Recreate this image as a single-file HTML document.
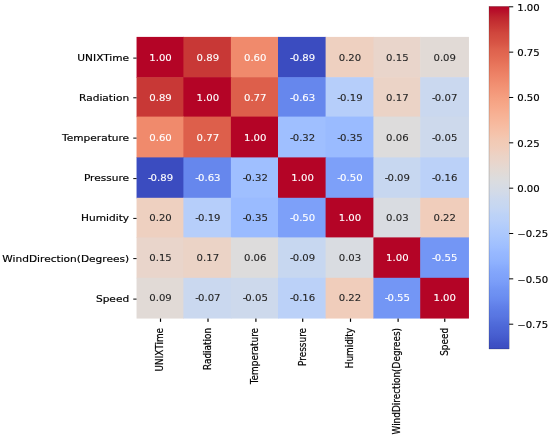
<!DOCTYPE html>
<html><head><meta charset="utf-8"><title>Correlation heatmap</title>
<style>html,body{margin:0;padding:0;background:#fff}svg{display:block}</style></head>
<body>
<svg width="550" height="439" viewBox="0 0 550 439">
<defs><linearGradient id="cb" x1="0" y1="0" x2="0" y2="1">
<stop offset="0.0000" stop-color="#b40426"/>
<stop offset="0.0156" stop-color="#b8122a"/>
<stop offset="0.0312" stop-color="#be242e"/>
<stop offset="0.0469" stop-color="#c43032"/>
<stop offset="0.0625" stop-color="#ca3b37"/>
<stop offset="0.0781" stop-color="#d0473d"/>
<stop offset="0.0938" stop-color="#d44e41"/>
<stop offset="0.1094" stop-color="#d85646"/>
<stop offset="0.1250" stop-color="#de614d"/>
<stop offset="0.1406" stop-color="#e16751"/>
<stop offset="0.1562" stop-color="#e46e56"/>
<stop offset="0.1719" stop-color="#e8765c"/>
<stop offset="0.1875" stop-color="#eb7d62"/>
<stop offset="0.2031" stop-color="#ee8468"/>
<stop offset="0.2188" stop-color="#f08b6e"/>
<stop offset="0.2344" stop-color="#f29274"/>
<stop offset="0.2500" stop-color="#f4987a"/>
<stop offset="0.2656" stop-color="#f59f80"/>
<stop offset="0.2812" stop-color="#f6a586"/>
<stop offset="0.2969" stop-color="#f7aa8c"/>
<stop offset="0.3125" stop-color="#f7b093"/>
<stop offset="0.3281" stop-color="#f7b599"/>
<stop offset="0.3438" stop-color="#f7ba9f"/>
<stop offset="0.3594" stop-color="#f6bfa6"/>
<stop offset="0.3750" stop-color="#f5c4ac"/>
<stop offset="0.3906" stop-color="#f2c9b4"/>
<stop offset="0.4062" stop-color="#f1ccb8"/>
<stop offset="0.4219" stop-color="#efcfbf"/>
<stop offset="0.4375" stop-color="#ebd3c6"/>
<stop offset="0.4531" stop-color="#e9d5cb"/>
<stop offset="0.4688" stop-color="#e5d8d1"/>
<stop offset="0.4844" stop-color="#e1dad6"/>
<stop offset="0.5000" stop-color="#dddcdc"/>
<stop offset="0.5156" stop-color="#d9dce1"/>
<stop offset="0.5312" stop-color="#d5dbe5"/>
<stop offset="0.5469" stop-color="#d1dae9"/>
<stop offset="0.5625" stop-color="#cbd8ee"/>
<stop offset="0.5781" stop-color="#c7d7f0"/>
<stop offset="0.5938" stop-color="#c3d5f4"/>
<stop offset="0.6094" stop-color="#bcd2f7"/>
<stop offset="0.6250" stop-color="#b9d0f9"/>
<stop offset="0.6406" stop-color="#b3cdfb"/>
<stop offset="0.6562" stop-color="#aec9fc"/>
<stop offset="0.6719" stop-color="#a9c6fd"/>
<stop offset="0.6875" stop-color="#a3c2fe"/>
<stop offset="0.7031" stop-color="#9ebeff"/>
<stop offset="0.7188" stop-color="#97b8ff"/>
<stop offset="0.7344" stop-color="#93b5fe"/>
<stop offset="0.7500" stop-color="#8db0fe"/>
<stop offset="0.7656" stop-color="#86a9fc"/>
<stop offset="0.7812" stop-color="#81a4fb"/>
<stop offset="0.7969" stop-color="#7da0f9"/>
<stop offset="0.8125" stop-color="#779af7"/>
<stop offset="0.8281" stop-color="#7093f3"/>
<stop offset="0.8438" stop-color="#6c8ff1"/>
<stop offset="0.8594" stop-color="#6788ee"/>
<stop offset="0.8750" stop-color="#6180e9"/>
<stop offset="0.8906" stop-color="#5b7ae5"/>
<stop offset="0.9062" stop-color="#5875e1"/>
<stop offset="0.9219" stop-color="#516ddb"/>
<stop offset="0.9375" stop-color="#4c66d6"/>
<stop offset="0.9531" stop-color="#4961d2"/>
<stop offset="0.9688" stop-color="#445acc"/>
<stop offset="0.9844" stop-color="#3e51c5"/>
<stop offset="1.0000" stop-color="#3b4cc0"/>
</linearGradient></defs>
<rect width="550" height="439" fill="#ffffff"/>
<g>
<rect x="136.55" y="36.90" width="47.45" height="40.90" fill="#b40426"/>
<rect x="183.40" y="36.90" width="48.10" height="40.90" fill="#c83836"/>
<rect x="230.90" y="36.90" width="47.70" height="40.90" fill="#f08a6c"/>
<rect x="278.00" y="36.90" width="48.20" height="40.90" fill="#3b4cc0"/>
<rect x="325.60" y="36.90" width="48.40" height="40.90" fill="#eed0c0"/>
<rect x="373.40" y="36.90" width="47.40" height="40.90" fill="#e9d5cb"/>
<rect x="420.20" y="36.90" width="48.75" height="40.90" fill="#e1dad6"/>
<rect x="136.55" y="77.20" width="47.45" height="40.00" fill="#c83836"/>
<rect x="183.40" y="77.20" width="48.10" height="40.00" fill="#b40426"/>
<rect x="230.90" y="77.20" width="47.70" height="40.00" fill="#dd5f4b"/>
<rect x="278.00" y="77.20" width="48.20" height="40.00" fill="#6687ed"/>
<rect x="325.60" y="77.20" width="48.40" height="40.00" fill="#b6cefa"/>
<rect x="373.40" y="77.20" width="47.40" height="40.00" fill="#ebd3c6"/>
<rect x="420.20" y="77.20" width="48.75" height="40.00" fill="#cad8ef"/>
<rect x="136.55" y="116.60" width="47.45" height="41.40" fill="#f08a6c"/>
<rect x="183.40" y="116.60" width="48.10" height="41.40" fill="#dd5f4b"/>
<rect x="230.90" y="116.60" width="47.70" height="41.40" fill="#b40426"/>
<rect x="278.00" y="116.60" width="48.20" height="41.40" fill="#9fbfff"/>
<rect x="325.60" y="116.60" width="48.40" height="41.40" fill="#9abbff"/>
<rect x="373.40" y="116.60" width="47.40" height="41.40" fill="#dddcdc"/>
<rect x="420.20" y="116.60" width="48.75" height="41.40" fill="#cdd9ec"/>
<rect x="136.55" y="157.40" width="47.45" height="41.00" fill="#3b4cc0"/>
<rect x="183.40" y="157.40" width="48.10" height="41.00" fill="#6687ed"/>
<rect x="230.90" y="157.40" width="47.70" height="41.00" fill="#9fbfff"/>
<rect x="278.00" y="157.40" width="48.20" height="41.00" fill="#b40426"/>
<rect x="325.60" y="157.40" width="48.40" height="41.00" fill="#7da0f9"/>
<rect x="373.40" y="157.40" width="47.40" height="41.00" fill="#c7d7f0"/>
<rect x="420.20" y="157.40" width="48.75" height="41.00" fill="#bbd1f8"/>
<rect x="136.55" y="197.80" width="47.45" height="40.20" fill="#eed0c0"/>
<rect x="183.40" y="197.80" width="48.10" height="40.20" fill="#b6cefa"/>
<rect x="230.90" y="197.80" width="47.70" height="40.20" fill="#9abbff"/>
<rect x="278.00" y="197.80" width="48.20" height="40.20" fill="#7da0f9"/>
<rect x="325.60" y="197.80" width="48.40" height="40.20" fill="#b40426"/>
<rect x="373.40" y="197.80" width="47.40" height="40.20" fill="#d9dce1"/>
<rect x="420.20" y="197.80" width="48.75" height="40.20" fill="#f0cdbb"/>
<rect x="136.55" y="237.40" width="47.45" height="41.00" fill="#e9d5cb"/>
<rect x="183.40" y="237.40" width="48.10" height="41.00" fill="#ebd3c6"/>
<rect x="230.90" y="237.40" width="47.70" height="41.00" fill="#dddcdc"/>
<rect x="278.00" y="237.40" width="48.20" height="41.00" fill="#c7d7f0"/>
<rect x="325.60" y="237.40" width="48.40" height="41.00" fill="#d9dce1"/>
<rect x="373.40" y="237.40" width="47.40" height="41.00" fill="#b40426"/>
<rect x="420.20" y="237.40" width="48.75" height="41.00" fill="#7396f5"/>
<rect x="136.55" y="277.80" width="47.45" height="40.75" fill="#e1dad6"/>
<rect x="183.40" y="277.80" width="48.10" height="40.75" fill="#cad8ef"/>
<rect x="230.90" y="277.80" width="47.70" height="40.75" fill="#cdd9ec"/>
<rect x="278.00" y="277.80" width="48.20" height="40.75" fill="#bbd1f8"/>
<rect x="325.60" y="277.80" width="48.40" height="40.75" fill="#f0cdbb"/>
<rect x="373.40" y="277.80" width="47.40" height="40.75" fill="#7396f5"/>
<rect x="420.20" y="277.80" width="48.75" height="40.75" fill="#b40426"/>
</g>
<g font-family="'DejaVu Sans', 'Liberation Sans', sans-serif" font-size="10" text-anchor="middle" stroke-width="0.12">
<text transform="translate(160.49 60.85) scale(1.0120 0.9150)" fill="#ffffff" stroke="#ffffff">1.00</text>
<text transform="translate(207.86 60.85) scale(1.0120 0.9150)" fill="#ffffff" stroke="#ffffff">0.89</text>
<text transform="translate(255.23 60.85) scale(1.0120 0.9150)" fill="#ffffff" stroke="#ffffff">0.60</text>
<text transform="translate(302.60 60.85) scale(1.0120 0.9150)" fill="#ffffff" stroke="#ffffff">-<tspan dx="-0.9">0.89</tspan></text>
<text transform="translate(349.97 60.85) scale(1.0120 0.9150)" fill="#262626" stroke="#262626">0.20</text>
<text transform="translate(397.33 60.85) scale(1.0120 0.9150)" fill="#262626" stroke="#262626">0.15</text>
<text transform="translate(444.70 60.85) scale(1.0120 0.9150)" fill="#262626" stroke="#262626">0.09</text>
<text transform="translate(160.49 100.60) scale(1.0120 0.9150)" fill="#ffffff" stroke="#ffffff">0.89</text>
<text transform="translate(207.86 100.60) scale(1.0120 0.9150)" fill="#ffffff" stroke="#ffffff">1.00</text>
<text transform="translate(255.23 100.60) scale(1.0120 0.9150)" fill="#ffffff" stroke="#ffffff">0.77</text>
<text transform="translate(302.60 100.60) scale(1.0120 0.9150)" fill="#ffffff" stroke="#ffffff">-<tspan dx="-0.9">0.63</tspan></text>
<text transform="translate(349.97 100.60) scale(1.0120 0.9150)" fill="#262626" stroke="#262626">-<tspan dx="-0.9">0.19</tspan></text>
<text transform="translate(397.33 100.60) scale(1.0120 0.9150)" fill="#262626" stroke="#262626">0.17</text>
<text transform="translate(444.70 100.60) scale(1.0120 0.9150)" fill="#262626" stroke="#262626">-<tspan dx="-0.9">0.07</tspan></text>
<text transform="translate(160.49 141.15) scale(1.0120 0.9150)" fill="#ffffff" stroke="#ffffff">0.60</text>
<text transform="translate(207.86 141.15) scale(1.0120 0.9150)" fill="#ffffff" stroke="#ffffff">0.77</text>
<text transform="translate(255.23 141.15) scale(1.0120 0.9150)" fill="#ffffff" stroke="#ffffff">1.00</text>
<text transform="translate(302.60 141.15) scale(1.0120 0.9150)" fill="#262626" stroke="#262626">-<tspan dx="-0.9">0.32</tspan></text>
<text transform="translate(349.97 141.15) scale(1.0120 0.9150)" fill="#262626" stroke="#262626">-<tspan dx="-0.9">0.35</tspan></text>
<text transform="translate(397.33 141.15) scale(1.0120 0.9150)" fill="#262626" stroke="#262626">0.06</text>
<text transform="translate(444.70 141.15) scale(1.0120 0.9150)" fill="#262626" stroke="#262626">-<tspan dx="-0.9">0.05</tspan></text>
<text transform="translate(160.49 180.85) scale(1.0120 0.9150)" fill="#ffffff" stroke="#ffffff">-<tspan dx="-0.9">0.89</tspan></text>
<text transform="translate(207.86 180.85) scale(1.0120 0.9150)" fill="#ffffff" stroke="#ffffff">-<tspan dx="-0.9">0.63</tspan></text>
<text transform="translate(255.23 180.85) scale(1.0120 0.9150)" fill="#262626" stroke="#262626">-<tspan dx="-0.9">0.32</tspan></text>
<text transform="translate(302.60 180.85) scale(1.0120 0.9150)" fill="#ffffff" stroke="#ffffff">1.00</text>
<text transform="translate(349.97 180.85) scale(1.0120 0.9150)" fill="#ffffff" stroke="#ffffff">-<tspan dx="-0.9">0.50</tspan></text>
<text transform="translate(397.33 180.85) scale(1.0120 0.9150)" fill="#262626" stroke="#262626">-<tspan dx="-0.9">0.09</tspan></text>
<text transform="translate(444.70 180.85) scale(1.0120 0.9150)" fill="#262626" stroke="#262626">-<tspan dx="-0.9">0.16</tspan></text>
<text transform="translate(160.49 221.15) scale(1.0120 0.9150)" fill="#262626" stroke="#262626">0.20</text>
<text transform="translate(207.86 221.15) scale(1.0120 0.9150)" fill="#262626" stroke="#262626">-<tspan dx="-0.9">0.19</tspan></text>
<text transform="translate(255.23 221.15) scale(1.0120 0.9150)" fill="#262626" stroke="#262626">-<tspan dx="-0.9">0.35</tspan></text>
<text transform="translate(302.60 221.15) scale(1.0120 0.9150)" fill="#ffffff" stroke="#ffffff">-<tspan dx="-0.9">0.50</tspan></text>
<text transform="translate(349.97 221.15) scale(1.0120 0.9150)" fill="#ffffff" stroke="#ffffff">1.00</text>
<text transform="translate(397.33 221.15) scale(1.0120 0.9150)" fill="#262626" stroke="#262626">0.03</text>
<text transform="translate(444.70 221.15) scale(1.0120 0.9150)" fill="#262626" stroke="#262626">0.22</text>
<text transform="translate(160.49 261.35) scale(1.0120 0.9150)" fill="#262626" stroke="#262626">0.15</text>
<text transform="translate(207.86 261.35) scale(1.0120 0.9150)" fill="#262626" stroke="#262626">0.17</text>
<text transform="translate(255.23 261.35) scale(1.0120 0.9150)" fill="#262626" stroke="#262626">0.06</text>
<text transform="translate(302.60 261.35) scale(1.0120 0.9150)" fill="#262626" stroke="#262626">-<tspan dx="-0.9">0.09</tspan></text>
<text transform="translate(349.97 261.35) scale(1.0120 0.9150)" fill="#262626" stroke="#262626">0.03</text>
<text transform="translate(397.33 261.35) scale(1.0120 0.9150)" fill="#ffffff" stroke="#ffffff">1.00</text>
<text transform="translate(444.70 261.35) scale(1.0120 0.9150)" fill="#ffffff" stroke="#ffffff">-<tspan dx="-0.9">0.55</tspan></text>
<text transform="translate(160.49 301.35) scale(1.0120 0.9150)" fill="#262626" stroke="#262626">0.09</text>
<text transform="translate(207.86 301.35) scale(1.0120 0.9150)" fill="#262626" stroke="#262626">-<tspan dx="-0.9">0.07</tspan></text>
<text transform="translate(255.23 301.35) scale(1.0120 0.9150)" fill="#262626" stroke="#262626">-<tspan dx="-0.9">0.05</tspan></text>
<text transform="translate(302.60 301.35) scale(1.0120 0.9150)" fill="#262626" stroke="#262626">-<tspan dx="-0.9">0.16</tspan></text>
<text transform="translate(349.97 301.35) scale(1.0120 0.9150)" fill="#262626" stroke="#262626">0.22</text>
<text transform="translate(397.33 301.35) scale(1.0120 0.9150)" fill="#ffffff" stroke="#ffffff">-<tspan dx="-0.9">0.55</tspan></text>
<text transform="translate(444.70 301.35) scale(1.0120 0.9150)" fill="#ffffff" stroke="#ffffff">1.00</text>
</g>
<g font-family="'DejaVu Sans', 'Liberation Sans', sans-serif" font-size="10" fill="#000000" stroke="#000000" stroke-width="0.18">
<rect x="133.26" y="57.61" width="3.29" height="0.98" fill="#000" stroke="none"/>
<text text-anchor="end" transform="translate(129.13 61.15) scale(1.0600 0.9150)">UNIXTime</text>
<rect x="159.92" y="318.55" width="1.17" height="3.30" fill="#000" stroke="none"/>
<text text-anchor="end" transform="translate(163.39 327.92) scale(1.0900 0.8920) rotate(-90)">UNIXTime</text>
<rect x="133.26" y="97.31" width="3.29" height="0.98" fill="#000" stroke="none"/>
<text text-anchor="end" transform="translate(129.13 100.90) scale(1.0600 0.9150)">Radiation</text>
<rect x="207.42" y="318.55" width="1.17" height="3.30" fill="#000" stroke="none"/>
<text text-anchor="end" transform="translate(210.76 327.92) scale(1.0900 0.8920) rotate(-90)">Radiation</text>
<rect x="133.26" y="137.61" width="3.29" height="0.98" fill="#000" stroke="none"/>
<text text-anchor="end" transform="translate(129.13 141.45) scale(1.0600 0.9150)">Temperature</text>
<rect x="255.32" y="318.55" width="1.17" height="3.30" fill="#000" stroke="none"/>
<text text-anchor="end" transform="translate(258.12 327.92) scale(1.0900 0.8920) rotate(-90)">Temperature</text>
<rect x="133.26" y="178.11" width="3.29" height="0.98" fill="#000" stroke="none"/>
<text text-anchor="end" transform="translate(129.13 181.15) scale(1.0600 0.9150)">Pressure</text>
<rect x="302.12" y="318.55" width="1.17" height="3.30" fill="#000" stroke="none"/>
<text text-anchor="end" transform="translate(305.50 327.92) scale(1.0900 0.8920) rotate(-90)">Pressure</text>
<rect x="133.26" y="217.91" width="3.29" height="0.98" fill="#000" stroke="none"/>
<text text-anchor="end" transform="translate(129.13 221.45) scale(1.0600 0.9150)">Humidity</text>
<rect x="349.92" y="318.55" width="1.17" height="3.30" fill="#000" stroke="none"/>
<text text-anchor="end" transform="translate(352.87 327.92) scale(1.0900 0.8920) rotate(-90)">Humidity</text>
<rect x="133.26" y="258.11" width="3.29" height="0.98" fill="#000" stroke="none"/>
<text text-anchor="end" transform="translate(129.13 261.65) scale(1.0600 0.9150)">WindDirection(Degrees)</text>
<rect x="397.52" y="318.55" width="1.17" height="3.30" fill="#000" stroke="none"/>
<text text-anchor="end" transform="translate(400.23 327.92) scale(1.0900 0.8920) rotate(-90)">WindDirection(Degrees)</text>
<rect x="133.26" y="298.61" width="3.29" height="0.98" fill="#000" stroke="none"/>
<text text-anchor="end" transform="translate(129.13 301.65) scale(1.0600 0.9150)">Speed</text>
<rect x="444.17" y="318.55" width="1.17" height="3.30" fill="#000" stroke="none"/>
<text text-anchor="end" transform="translate(447.60 327.92) scale(1.0900 0.8920) rotate(-90)">Speed</text>
<rect x="489.00" y="6.40" width="20.10" height="342.60" fill="url(#cb)"/>
<rect x="509.10" y="6.31" width="4.13" height="0.98" fill="#000" stroke="none"/>
<text transform="translate(517.22 10.72) scale(1.0120 0.9150)">1.00</text>
<rect x="509.10" y="51.65" width="4.13" height="0.98" fill="#000" stroke="none"/>
<text transform="translate(517.22 56.07) scale(1.0120 0.9150)">0.75</text>
<rect x="509.10" y="96.99" width="4.13" height="0.98" fill="#000" stroke="none"/>
<text transform="translate(517.22 101.41) scale(1.0120 0.9150)">0.50</text>
<rect x="509.10" y="142.33" width="4.13" height="0.98" fill="#000" stroke="none"/>
<text transform="translate(517.22 146.75) scale(1.0120 0.9150)">0.25</text>
<rect x="509.10" y="187.68" width="4.13" height="0.98" fill="#000" stroke="none"/>
<text transform="translate(517.22 192.09) scale(1.0120 0.9150)">0.00</text>
<rect x="509.10" y="233.02" width="4.13" height="0.98" fill="#000" stroke="none"/>
<text transform="translate(517.22 237.43) scale(1.0120 0.9150)">−0.25</text>
<rect x="509.10" y="278.36" width="4.13" height="0.98" fill="#000" stroke="none"/>
<text transform="translate(517.22 282.77) scale(1.0120 0.9150)">−0.50</text>
<rect x="509.10" y="323.70" width="4.13" height="0.98" fill="#000" stroke="none"/>
<text transform="translate(517.22 328.11) scale(1.0120 0.9150)">−0.75</text>
</g>
</svg>
</body></html>
